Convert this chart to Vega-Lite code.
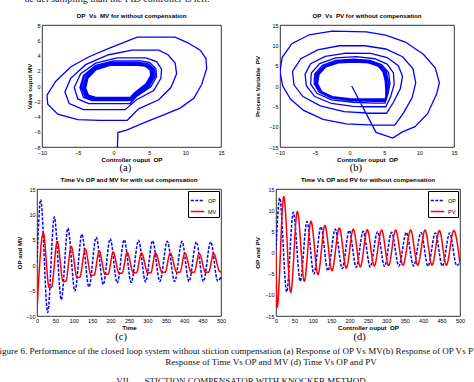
{
"$schema": "https://vega.github.io/schema/vega-lite/v6.json",
"padding": 0,
"background": "white",
"datasets": {
"top": [{"text": "ue del sampling than the PID controller is left."}],
"cap": [
{"line": 1, "text": "Figure 6. Performance of the closed loop system without stiction compensation (a) Response of OP Vs MV(b) Response of OP Vs PV"},
{"line": 2, "text": "Response of Time Vs OP and MV (d) Time Vs OP and PV"},
{"line": 3, "text": "VII.\u00a0\u00a0\u00a0\u00a0\u00a0 STICTION COMPENSATOR WITH KNOCKER METHOD"}
],
"ts": [
{"s":"OP","t":0,"v":0.5},{"s":"OP","t":10,"v":12.9},{"s":"OP","t":29,"v":-9.3},{"s":"OP","t":47,"v":9.5},{"s":"OP","t":66,"v":-6.8},{"s":"OP","t":84,"v":7.3},{"s":"OP","t":103,"v":-5.1},{"s":"OP","t":122,"v":6.1},{"s":"OP","t":141,"v":-4.3},{"s":"OP","t":161,"v":5.5},{"s":"OP","t":180,"v":-3.8},{"s":"OP","t":199,"v":5.2},{"s":"OP","t":218,"v":-3.5},{"s":"OP","t":237,"v":5.0},{"s":"OP","t":256,"v":-3.4},{"s":"OP","t":276,"v":4.9},{"s":"OP","t":295,"v":-3.3},{"s":"OP","t":314,"v":4.8},{"s":"OP","t":334,"v":-3.2},{"s":"OP","t":354,"v":4.7},{"s":"OP","t":374,"v":-3.2},{"s":"OP","t":394,"v":4.7},{"s":"OP","t":413,"v":-3.2},{"s":"OP","t":433,"v":4.6},{"s":"OP","t":452,"v":-3.2},{"s":"OP","t":472,"v":4.6},{"s":"OP","t":491,"v":-3.1},{"s":"OP","t":500,"v":-2.3},
{"s":"MV","t":0,"v":-9.0},{"s":"MV","t":17,"v":6.4},{"s":"MV","t":33,"v":-4.4},{"s":"MV","t":39,"v":-4.4},{"s":"MV","t":55,"v":4.7},{"s":"MV","t":71,"v":-3.2},{"s":"MV","t":78,"v":-3.2},{"s":"MV","t":93,"v":3.7},{"s":"MV","t":109,"v":-2.4},{"s":"MV","t":116,"v":-2.4},{"s":"MV","t":131,"v":3.2},{"s":"MV","t":147,"v":-2.0},{"s":"MV","t":155,"v":-2.0},{"s":"MV","t":169,"v":2.8},{"s":"MV","t":185,"v":-1.8},{"s":"MV","t":193,"v":-1.8},{"s":"MV","t":207,"v":2.6},{"s":"MV","t":223,"v":-1.6},{"s":"MV","t":231,"v":-1.6},{"s":"MV","t":245,"v":2.5},{"s":"MV","t":262,"v":-1.5},{"s":"MV","t":270,"v":-1.5},{"s":"MV","t":284,"v":2.4},{"s":"MV","t":301,"v":-1.5},{"s":"MV","t":309,"v":-1.5},{"s":"MV","t":322,"v":2.4},{"s":"MV","t":340,"v":-1.4},{"s":"MV","t":348,"v":-1.4},{"s":"MV","t":362,"v":2.4},{"s":"MV","t":380,"v":-1.4},{"s":"MV","t":388,"v":-1.4},{"s":"MV","t":402,"v":2.4},{"s":"MV","t":419,"v":-1.4},{"s":"MV","t":427,"v":-1.4},{"s":"MV","t":441,"v":2.3},{"s":"MV","t":458,"v":-1.4},{"s":"MV","t":466,"v":-1.4},{"s":"MV","t":480,"v":2.3},{"s":"MV","t":497,"v":-1.3},{"s":"MV","t":500,"v":-1.3},
{"s":"PV","t":0,"v":0.0},{"s":"PV","t":3,"v":-13.0},{"s":"PV","t":21,"v":13.2},{"s":"PV","t":40,"v":-9.4},{"s":"PV","t":58,"v":9.7},{"s":"PV","t":77,"v":-6.8},{"s":"PV","t":95,"v":7.4},{"s":"PV","t":114,"v":-5.2},{"s":"PV","t":133,"v":6.4},{"s":"PV","t":152,"v":-4.3},{"s":"PV","t":172,"v":5.8},{"s":"PV","t":191,"v":-3.7},{"s":"PV","t":210,"v":5.5},{"s":"PV","t":229,"v":-3.4},{"s":"PV","t":248,"v":5.4},{"s":"PV","t":267,"v":-3.2},{"s":"PV","t":287,"v":5.3},{"s":"PV","t":306,"v":-3.1},{"s":"PV","t":325,"v":5.3},{"s":"PV","t":345,"v":-3.0},{"s":"PV","t":366,"v":5.3},{"s":"PV","t":385,"v":-3.0},{"s":"PV","t":405,"v":5.3},{"s":"PV","t":424,"v":-3.0},{"s":"PV","t":444,"v":5.2},{"s":"PV","t":463,"v":-3.0},{"s":"PV","t":483,"v":5.2},{"s":"PV","t":500,"v":-2.6}
],
"pa": [
{"i":1,"op":0.5,"mv":-9.0},{"i":2,"op":0.6,"mv":-6.1},{"i":3,"op":1.9,"mv":-5.75},{"i":4,"op":4.7,"mv":-4.65},{"i":5,"op":7.0,"mv":-3.8},{"i":6,"op":9.3,"mv":-2.9},{"i":7,"op":11.2,"mv":-1.6},{"i":8,"op":12.3,"mv":0.2},{"i":9,"op":13.0,"mv":2.3},{"i":10,"op":12.9,"mv":3.6},{"i":11,"op":12.1,"mv":4.7},{"i":12,"op":10.3,"mv":5.7},{"i":13,"op":8.6,"mv":6.4},{"i":14,"op":3.3,"mv":6.4},{"i":15,"op":-0.5,"mv":5.0},{"i":16,"op":-3.5,"mv":3.8},{"i":17,"op":-6.0,"mv":2.5},{"i":18,"op":-8.1,"mv":0.6},{"i":19,"op":-9.3,"mv":-1.2},{"i":20,"op":-9.2,"mv":-2.4},{"i":21,"op":-7.8,"mv":-3.7},{"i":22,"op":-5.0,"mv":-4.4},{"i":23,"op":-2.0,"mv":-4.5},{"i":24,"op":1.9,"mv":-4.5},
{"i":25,"op":3.5,"mv":-3.0},{"i":26,"op":6.3,"mv":-1.8},{"i":27,"op":8.0,"mv":-0.2},{"i":28,"op":8.8,"mv":1.6},{"i":29,"op":8.6,"mv":3.0},{"i":30,"op":7.6,"mv":4.1},{"i":31,"op":6.3,"mv":4.7},{"i":32,"op":2.6,"mv":4.7},{"i":33,"op":-0.7,"mv":4.1},{"i":34,"op":-3.9,"mv":2.8},{"i":35,"op":-6.0,"mv":1.0},{"i":36,"op":-6.8,"mv":-0.8},{"i":37,"op":-6.2,"mv":-2.3},{"i":38,"op":-4.2,"mv":-3.1},{"i":39,"op":1.6,"mv":-3.1},
{"i":40,"op":3.2,"mv":-1.8},{"i":41,"op":5.6,"mv":-0.6},{"i":42,"op":6.6,"mv":1.0},{"i":43,"op":6.7,"mv":2.2},{"i":44,"op":6.0,"mv":3.2},{"i":45,"op":4.5,"mv":3.7},{"i":46,"op":0.5,"mv":3.7},{"i":47,"op":-2.5,"mv":3.0},{"i":48,"op":-4.6,"mv":1.6},{"i":49,"op":-5.5,"mv":-0.2},{"i":50,"op":-5.0,"mv":-1.7},{"i":51,"op":-3.5,"mv":-2.3},{"i":52,"op":2.3,"mv":-2.3},
{"i":53,"op":3.3,"mv":-1.3},{"i":54,"op":5.2,"mv":-0.1},{"i":55,"op":6.0,"mv":1.2},{"i":56,"op":5.9,"mv":2.3},{"i":57,"op":5.0,"mv":3.1},{"i":58,"op":3.8,"mv":3.3},{"i":59,"op":0.0,"mv":3.3},{"i":60,"op":-2.5,"mv":2.7},{"i":61,"op":-4.2,"mv":1.4},{"i":62,"op":-4.7,"mv":-0.2},{"i":63,"op":-4.2,"mv":-1.5},{"i":64,"op":-3.0,"mv":-1.9},{"i":65,"op":2.5,"mv":-1.9},
{"i":66,"op":3.2,"mv":-1.2},{"i":67,"op":5.0,"mv":0.0},{"i":68,"op":5.8,"mv":1.3},{"i":69,"op":5.7,"mv":2.2},{"i":70,"op":4.9,"mv":2.9},{"i":71,"op":3.6,"mv":3.1},{"i":72,"op":-0.2,"mv":3.1},{"i":73,"op":-2.5,"mv":2.5},{"i":74,"op":-4.1,"mv":1.3},{"i":75,"op":-4.5,"mv":-0.2},{"i":76,"op":-4.0,"mv":-1.4},{"i":77,"op":-2.9,"mv":-1.8},{"i":78,"op":2.4,"mv":-1.8},
{"i":79,"op":3.1,"mv":-1.1},{"i":80,"op":4.9,"mv":0.1},{"i":81,"op":5.6,"mv":1.3},{"i":82,"op":5.5,"mv":2.2},{"i":83,"op":4.8,"mv":2.8},{"i":84,"op":3.5,"mv":3.0},{"i":85,"op":-0.3,"mv":3.0},{"i":86,"op":-2.5,"mv":2.4},{"i":87,"op":-3.9,"mv":1.2},{"i":88,"op":-4.3,"mv":-0.2},{"i":89,"op":-3.9,"mv":-1.3},{"i":90,"op":-2.8,"mv":-1.7},{"i":91,"op":2.4,"mv":-1.7},
{"i":92,"op":3.1,"mv":-1.1},{"i":93,"op":4.8,"mv":0.1},{"i":94,"op":5.5,"mv":1.3},{"i":95,"op":5.4,"mv":2.2},{"i":96,"op":4.7,"mv":2.7},{"i":97,"op":3.4,"mv":2.9},{"i":98,"op":-0.4,"mv":2.9},{"i":99,"op":-2.6,"mv":2.3},{"i":100,"op":-3.8,"mv":1.1},{"i":101,"op":-4.2,"mv":-0.3},{"i":102,"op":-3.8,"mv":-1.3},{"i":103,"op":-2.7,"mv":-1.7},{"i":104,"op":2.3,"mv":-1.7},
{"i":105,"op":3.0,"mv":-1.0},{"i":106,"op":4.7,"mv":0.2},{"i":107,"op":5.4,"mv":1.3},{"i":108,"op":5.3,"mv":2.1},{"i":109,"op":4.6,"mv":2.7},{"i":110,"op":3.4,"mv":2.8},{"i":111,"op":-0.5,"mv":2.8},{"i":112,"op":-2.6,"mv":2.2},{"i":113,"op":-3.8,"mv":1.0},{"i":114,"op":-4.1,"mv":-0.3},{"i":115,"op":-3.7,"mv":-1.2},{"i":116,"op":-2.6,"mv":-1.6},{"i":117,"op":2.3,"mv":-1.6},
{"i":118,"op":3.0,"mv":-1.0},{"i":119,"op":4.6,"mv":0.2},{"i":120,"op":5.3,"mv":1.3},{"i":121,"op":5.2,"mv":2.1},{"i":122,"op":4.5,"mv":2.6},{"i":123,"op":3.3,"mv":2.7},{"i":124,"op":-0.5,"mv":2.7},{"i":125,"op":-2.6,"mv":2.1},{"i":126,"op":-3.7,"mv":1.0},{"i":127,"op":-4.0,"mv":-0.3},{"i":128,"op":-3.6,"mv":-1.2},{"i":129,"op":-2.6,"mv":-1.6},{"i":130,"op":2.3,"mv":-1.6},
{"i":131,"op":2.9,"mv":-1.0},{"i":132,"op":4.5,"mv":0.2},{"i":133,"op":5.2,"mv":1.3},{"i":134,"op":5.1,"mv":2.1},{"i":135,"op":4.4,"mv":2.6},{"i":136,"op":3.2,"mv":2.7},{"i":137,"op":-0.5,"mv":2.7},{"i":138,"op":-2.5,"mv":2.1},{"i":139,"op":-3.6,"mv":1.0},{"i":140,"op":-3.9,"mv":-0.3},{"i":141,"op":-3.5,"mv":-1.2},{"i":142,"op":-2.5,"mv":-1.5},{"i":143,"op":2.3,"mv":-1.5},
{"i":144,"op":2.9,"mv":-0.9},{"i":145,"op":4.5,"mv":0.3},{"i":146,"op":5.2,"mv":1.4},{"i":147,"op":5.1,"mv":2.2}
],
"pb": [
{"i":1,"op":0.3,"pv":0.0},{"i":2,"op":3.8,"pv":-11.4},{"i":3,"op":6.2,"pv":-12.8},{"i":4,"op":7.6,"pv":-11.3},{"i":5,"op":9.4,"pv":-10.0},{"i":6,"op":11.2,"pv":-6.8},{"i":7,"op":12.5,"pv":-2.0},{"i":8,"op":12.9,"pv":0.8},{"i":9,"op":12.3,"pv":4.5},{"i":10,"op":10.6,"pv":7.8},{"i":11,"op":8.0,"pv":10.8},{"i":12,"op":5.2,"pv":12.5},{"i":13,"op":2.4,"pv":13.3},{"i":14,"op":-2.5,"pv":13.5},{"i":15,"op":-5.8,"pv":12.6},{"i":16,"op":-8.3,"pv":10.4},{"i":17,"op":-9.7,"pv":7.0},{"i":18,"op":-10.0,"pv":3.5},{"i":19,"op":-9.6,"pv":0.0},{"i":20,"op":-8.5,"pv":-3.2},{"i":21,"op":-6.6,"pv":-6.0},{"i":22,"op":-3.8,"pv":-8.2},{"i":23,"op":-0.5,"pv":-9.3},{"i":24,"op":3.5,"pv":-9.6},{"i":25,"op":6.5,"pv":-9.6},
{"i":26,"op":7.8,"pv":-6.5},{"i":27,"op":9.0,"pv":-2.8},{"i":28,"op":9.5,"pv":0.8},{"i":29,"op":9.1,"pv":4.3},{"i":30,"op":7.6,"pv":7.2},{"i":31,"op":5.2,"pv":9.1},{"i":32,"op":2.2,"pv":9.9},{"i":33,"op":-1.5,"pv":9.9},{"i":34,"op":-4.6,"pv":8.9},{"i":35,"op":-7.0,"pv":6.7},{"i":36,"op":-8.2,"pv":3.6},{"i":37,"op":-8.0,"pv":0.3},{"i":38,"op":-6.7,"pv":-2.6},{"i":39,"op":-4.2,"pv":-4.9},{"i":40,"op":-0.8,"pv":-6.3},{"i":41,"op":3.0,"pv":-6.7},{"i":42,"op":5.3,"pv":-6.7},
{"i":43,"op":6.3,"pv":-4.0},{"i":44,"op":7.3,"pv":-0.6},{"i":45,"op":7.6,"pv":2.4},{"i":46,"op":7.0,"pv":5.0},{"i":47,"op":5.4,"pv":7.0},{"i":48,"op":3.0,"pv":8.0},{"i":49,"op":-0.5,"pv":8.1},{"i":50,"op":-3.5,"pv":7.3},{"i":51,"op":-5.6,"pv":5.5},{"i":52,"op":-6.4,"pv":2.9},{"i":53,"op":-6.2,"pv":0.0},{"i":54,"op":-5.0,"pv":-2.6},{"i":55,"op":-2.6,"pv":-4.3},{"i":56,"op":0.5,"pv":-5.0},{"i":57,"op":3.5,"pv":-5.1},{"i":58,"op":5.2,"pv":-5.1},
{"i":59,"op":5.9,"pv":-2.6},{"i":60,"op":6.4,"pv":0.4},{"i":61,"op":6.3,"pv":3.2},{"i":62,"op":5.4,"pv":5.4},{"i":63,"op":3.6,"pv":6.7},{"i":64,"op":1.0,"pv":7.2},{"i":65,"op":-2.0,"pv":6.9},{"i":66,"op":-4.3,"pv":5.5},{"i":67,"op":-5.5,"pv":3.2},{"i":68,"op":-5.6,"pv":0.5},{"i":69,"op":-4.7,"pv":-1.8},{"i":70,"op":-2.6,"pv":-3.4},{"i":71,"op":0.5,"pv":-4.0},{"i":72,"op":3.5,"pv":-4.2},{"i":73,"op":5.1,"pv":-4.2},
{"i":74,"op":5.5,"pv":-2.0},{"i":75,"op":5.8,"pv":0.6},{"i":76,"op":5.6,"pv":3.3},{"i":77,"op":4.6,"pv":5.3},{"i":78,"op":2.9,"pv":6.3},{"i":79,"op":0.6,"pv":6.6},{"i":80,"op":-2.0,"pv":6.3},{"i":81,"op":-3.9,"pv":5.1},{"i":82,"op":-5.0,"pv":3.0},{"i":83,"op":-5.1,"pv":0.6},{"i":84,"op":-4.4,"pv":-1.5},{"i":85,"op":-2.6,"pv":-3.0},{"i":86,"op":0.3,"pv":-3.6},{"i":87,"op":3.4,"pv":-3.8},{"i":88,"op":5.1,"pv":-3.8},
{"i":89,"op":5.4,"pv":-1.6},{"i":90,"op":5.6,"pv":0.8},{"i":91,"op":5.3,"pv":3.4},{"i":92,"op":4.4,"pv":5.2},{"i":93,"op":2.8,"pv":6.1},{"i":94,"op":0.6,"pv":6.3},{"i":95,"op":-1.9,"pv":6.0},{"i":96,"op":-3.7,"pv":4.9},{"i":97,"op":-4.8,"pv":2.9},{"i":98,"op":-4.9,"pv":0.6},{"i":99,"op":-4.2,"pv":-1.4},{"i":100,"op":-2.6,"pv":-2.8},{"i":101,"op":0.2,"pv":-3.4},{"i":102,"op":3.3,"pv":-3.6},{"i":103,"op":5.1,"pv":-3.6},
{"i":104,"op":5.3,"pv":-1.4},{"i":105,"op":5.4,"pv":1.0},{"i":106,"op":5.1,"pv":3.4},{"i":107,"op":4.3,"pv":5.1},{"i":108,"op":2.8,"pv":6.0},{"i":109,"op":0.7,"pv":6.2},{"i":110,"op":-1.8,"pv":5.9},{"i":111,"op":-3.6,"pv":4.8},{"i":112,"op":-4.6,"pv":2.9},{"i":113,"op":-4.8,"pv":0.6},{"i":114,"op":-4.1,"pv":-1.4},{"i":115,"op":-2.6,"pv":-2.7},{"i":116,"op":0.1,"pv":-3.3},{"i":117,"op":3.2,"pv":-3.4},{"i":118,"op":5.2,"pv":-3.4},
{"i":119,"op":5.3,"pv":-1.2},{"i":120,"op":5.3,"pv":1.2},{"i":121,"op":5.0,"pv":3.4},{"i":122,"op":4.2,"pv":5.0},{"i":123,"op":2.8,"pv":5.8},{"i":124,"op":0.7,"pv":6.0},{"i":125,"op":-1.7,"pv":5.8},{"i":126,"op":-3.5,"pv":4.7},{"i":127,"op":-4.5,"pv":2.9},{"i":128,"op":-4.7,"pv":0.6},{"i":129,"op":-4.0,"pv":-1.4},{"i":130,"op":-2.5,"pv":-2.7},{"i":131,"op":0.0,"pv":-3.2},{"i":132,"op":3.1,"pv":-3.3},{"i":133,"op":5.2,"pv":-3.3},
{"i":134,"op":5.3,"pv":-1.1},{"i":135,"op":5.2,"pv":1.3},{"i":136,"op":4.9,"pv":3.5},{"i":137,"op":4.1,"pv":4.9},{"i":138,"op":2.8,"pv":5.7},{"i":139,"op":0.8,"pv":5.9},{"i":140,"op":-1.6,"pv":5.7},{"i":141,"op":-3.4,"pv":4.7},{"i":142,"op":-4.4,"pv":2.8},{"i":143,"op":-4.6,"pv":0.6},{"i":144,"op":-4.0,"pv":-1.4},{"i":145,"op":-2.5,"pv":-2.6},{"i":146,"op":0.0,"pv":-3.1},{"i":147,"op":3.0,"pv":-3.2},{"i":148,"op":5.2,"pv":-3.2},
{"i":149,"op":5.2,"pv":-1.0},{"i":150,"op":5.1,"pv":1.4},{"i":151,"op":4.8,"pv":3.5},{"i":152,"op":4.1,"pv":4.9},{"i":153,"op":2.7,"pv":5.7}
]
},
"resolve": {"scale": {"color": "independent", "strokeDash": "independent"}, "legend": {"color": "independent", "strokeDash": "independent"}},
"vconcat": [
{
"width": 474, "height": 10, "view": {"stroke": null},
"data": {"name": "top"},
"mark": {"type": "text", "font": "Liberation Serif", "fontSize": 10, "baseline": "alphabetic", "dx": -120, "dy": -3.5, "clip": true, "color": "#222"},
"encoding": {"text": {"field": "text"}}
},
{
"spacing": 0,
"hconcat": [
{"width": 26, "height": 10, "view": {"stroke": null}, "data": {"values": []}, "mark": "point"},
{
"vconcat": [
{
"width": 179, "height": 122,
"title": "OP\u00a0 Vs\u00a0 MV for without compensation",
"data": {"name": "pa"},
"mark": {"type": "line", "color": "#0000ff", "strokeWidth": 1.3, "clip": true},
"encoding": {
"x": {"field": "op", "type": "quantitative", "scale": {"domain": [-10, 15], "nice": false, "zero": false}, "axis": {"values": [-10, -5, 0, 5, 10, 15], "title": "Controller ouput\u00a0 OP", "labelPadding": 3}},
"y": {"field": "mv", "type": "quantitative", "scale": {"domain": [-8, 8], "nice": false, "zero": false}, "axis": {"values": [-8, -6, -4, -2, 0, 2, 4, 6, 8], "title": "Valve ouput MV", "titlePadding": 1}},
"order": {"field": "i", "type": "quantitative"}
}
}
],
"title": {"text": "(a)", "orient": "bottom", "font": "Liberation Serif", "fontSize": 10.5, "fontWeight": "normal", "offset": 0}
},
{"width": 29, "height": 10, "view": {"stroke": null}, "data": {"values": []}, "mark": "point"},
{
"vconcat": [
{
"width": 174, "height": 122,
"title": "OP\u00a0 Vs\u00a0 PV for without compensation",
"data": {"name": "pb"},
"mark": {"type": "line", "color": "#0000ff", "strokeWidth": 1.3, "clip": true},
"encoding": {
"x": {"field": "op", "type": "quantitative", "scale": {"domain": [-10, 15], "nice": false, "zero": false}, "axis": {"values": [-10, -5, 0, 5, 10, 15], "title": "Controller ouput\u00a0 OP", "labelPadding": 3}},
"y": {"field": "pv", "type": "quantitative", "scale": {"domain": [-15, 15], "nice": false, "zero": false}, "axis": {"values": [-15, -10, -5, 0, 5, 10, 15], "title": "Process Variable\u00a0 PV", "titlePadding": 8}},
"order": {"field": "i", "type": "quantitative"}
}
}
],
"title": {"text": "(b)", "orient": "bottom", "font": "Liberation Serif", "fontSize": 10.5, "fontWeight": "normal", "offset": 0}
}
]
},
{
"spacing": 0,
"resolve": {"scale": {"color": "independent", "strokeDash": "independent"}, "legend": {"color": "independent", "strokeDash": "independent"}},
"hconcat": [
{"width": 16, "height": 10, "view": {"stroke": null}, "data": {"values": []}, "mark": "point"},
{
"resolve": {"scale": {"color": "independent", "strokeDash": "independent"}, "legend": {"color": "independent", "strokeDash": "independent"}},
"vconcat": [
{
"width": 184, "height": 127,
"title": "Time Vs OP and MV for with out compensation",
"data": {"name": "ts"},
"encoding": {
"x": {"field": "t", "type": "quantitative", "scale": {"domain": [0, 500], "nice": false}, "axis": {"values": [0, 50, 100, 150, 200, 250, 300, 350, 400, 450, 500], "title": "Time"}},
"y": {"field": "v", "type": "quantitative", "scale": {"domain": [-10, 15], "nice": false, "zero": false}, "axis": {"values": [-10, -5, 0, 5, 10, 15], "title": "OP and MV", "titlePadding": 3}},
"color": {"field": "s", "type": "nominal", "scale": {"domain": ["OP", "MV"], "range": ["#0000ff", "#ff0000"]}, "legend": {"orient": "top-right", "title": null, "offset": 2, "padding": 2, "strokeColor": "#000", "fillColor": "#fff", "labelFontSize": 5.5, "labelColor": "#000", "symbolType": "stroke", "symbolSize": 180, "symbolStrokeWidth": 1.5, "rowPadding": 0, "labelOffset": 3}},
"strokeDash": {"field": "s", "type": "nominal", "scale": {"domain": ["OP", "MV"], "range": [[3, 1.5], [1, 0]]}, "legend": {"orient": "top-right", "title": null, "offset": 2, "padding": 2, "strokeColor": "#000", "fillColor": "#fff", "labelFontSize": 5.5, "labelColor": "#000", "symbolType": "stroke", "symbolSize": 180, "symbolStrokeWidth": 1.5, "rowPadding": 0, "labelOffset": 3}}
},
"layer": [
{"transform": [{"filter": "datum.s === 'OP'"}], "mark": {"type": "line", "interpolate": "monotone", "strokeWidth": 1.5, "clip": true}},
{"transform": [{"filter": "datum.s === 'MV'"}], "mark": {"type": "line", "interpolate": "monotone", "strokeWidth": 1.5, "clip": true}}
]
}
],
"title": {"text": "(c)", "orient": "bottom", "font": "Liberation Serif", "fontSize": 10.5, "fontWeight": "normal", "offset": 1}
},
{"width": 28, "height": 10, "view": {"stroke": null}, "data": {"values": []}, "mark": "point"},
{
"resolve": {"scale": {"color": "independent", "strokeDash": "independent"}, "legend": {"color": "independent", "strokeDash": "independent"}},
"vconcat": [
{
"width": 184, "height": 127,
"title": "Time Vs OP and PV for without compensation",
"data": {"name": "ts"},
"encoding": {
"x": {"field": "t", "type": "quantitative", "scale": {"domain": [0, 500], "nice": false}, "axis": {"values": [0, 50, 100, 150, 200, 250, 300, 350, 400, 450, 500], "title": "Controller ouput\u00a0 OP"}},
"y": {"field": "v", "type": "quantitative", "scale": {"domain": [-15, 15], "nice": false, "zero": false}, "axis": {"values": [-15, -10, -5, 0, 5, 10, 15], "title": "OP and PV", "titlePadding": 4}},
"color": {"field": "s", "type": "nominal", "scale": {"domain": ["OP", "PV"], "range": ["#0000ff", "#ff0000"]}, "legend": {"orient": "top-right", "title": null, "offset": 2, "padding": 2, "strokeColor": "#000", "fillColor": "#fff", "labelFontSize": 5.5, "labelColor": "#000", "symbolType": "stroke", "symbolSize": 180, "symbolStrokeWidth": 1.5, "rowPadding": 0, "labelOffset": 3}},
"strokeDash": {"field": "s", "type": "nominal", "scale": {"domain": ["OP", "PV"], "range": [[3, 1.5], [1, 0]]}, "legend": {"orient": "top-right", "title": null, "offset": 2, "padding": 2, "strokeColor": "#000", "fillColor": "#fff", "labelFontSize": 5.5, "labelColor": "#000", "symbolType": "stroke", "symbolSize": 180, "symbolStrokeWidth": 1.5, "rowPadding": 0, "labelOffset": 3}}
},
"layer": [
{"transform": [{"filter": "datum.s === 'OP'"}], "mark": {"type": "line", "interpolate": "monotone", "strokeWidth": 1.5, "clip": true}},
{"transform": [{"filter": "datum.s === 'PV'"}], "mark": {"type": "line", "interpolate": "monotone", "strokeWidth": 1.5, "clip": true}}
]
}
],
"title": {"text": "(d)", "orient": "bottom", "font": "Liberation Serif", "fontSize": 10.5, "fontWeight": "normal", "offset": 1}
}
]
},
{
"width": 474, "height": 37, "view": {"stroke": null},
"data": {"name": "cap"},
"layer": [
{"transform": [{"filter": "datum.line === 1"}], "mark": {"type": "text", "font": "Liberation Serif", "fontSize": 9.05, "baseline": "middle", "dy": -12.5, "clip": true, "color": "#111"}, "encoding": {"text": {"field": "text"}}},
{"transform": [{"filter": "datum.line === 2"}], "mark": {"type": "text", "font": "Liberation Serif", "fontSize": 9.05, "baseline": "middle", "dx": 34, "dy": -1.5, "clip": true, "color": "#111"}, "encoding": {"text": {"field": "text"}}},
{"transform": [{"filter": "datum.line === 3"}], "mark": {"type": "text", "font": "Liberation Serif", "fontSize": 9, "baseline": "middle", "dx": 4, "dy": 17.5, "clip": true, "color": "#111"}, "encoding": {"text": {"field": "text"}}}
]
}
],
"spacing": 2,
"config": {
"view": {"stroke": "#000", "strokeWidth": 0.8},
"font": "Liberation Sans",
"axis": {"grid": false, "ticks": false, "domain": false, "labelFontSize": 5.5, "labelColor": "#000", "labelFont": "Liberation Sans", "titleFontSize": 6.2, "titleFont": "Liberation Sans", "titleFontWeight": "bold", "titleColor": "#000", "labelPadding": 2, "labelFlush": false, "labelOverlap": false},
"axisX": {"titlePadding": 1},
"title": {"fontSize": 6.2, "font": "Liberation Sans", "fontWeight": "bold", "color": "#000", "offset": 4, "anchor": "middle"},
"legend": {"labelFont": "Liberation Sans"}
}
}
